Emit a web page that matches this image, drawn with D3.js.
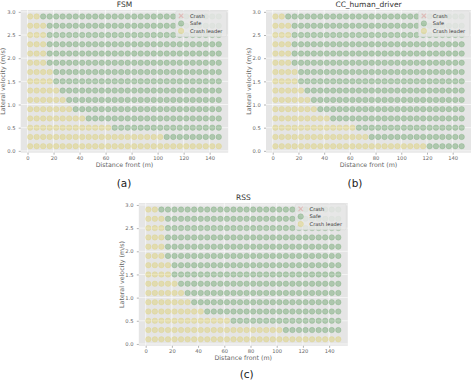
<!DOCTYPE html>
<html><head><meta charset="utf-8">
<script src="https://cdn.jsdelivr.net/npm/d3@7"></script>
<style>body{margin:0;background:#fff}svg{display:block;font-family:"DejaVu Sans",sans-serif}</style>
</head><body><svg id="chart" width="474" height="381"></svg>
<script>
const distances = [2,7,12,17,22,27,32,37,42,47,52,57,62,67,72,77,82,87,92,97,102,107,112,117,122,127,132,137,142,147];
const lateralVelocities = [0.1,0.3,0.5,0.7,0.9,1.1,1.3,1.5,1.7,1.9,2.1,2.3,2.5,2.7,2.9];
// per row (bottom to top): how many points from the left are "Crash leader"; the rest are "Safe"
const fsmCrashLeader = [30,21,13,9,7,6,5,4,4,3,3,3,3,3,2];
const ccCrashLeader  = [24,15,13,9,7,6,5,4,4,3,3,3,3,3,2];
const rssCrashLeader = [30,21,13,9,7,6,5,4,4,3,3,3,3,3,2];
const xTicks = [0,20,40,60,80,100,120,140];
const yTicks = [0,0.5,1,1.5,2,2.5,3];
const legendLabels = ["Crash","Safe","Crash leader"];
const panelTitles = ["FSM","CC_human_driver","RSS"];
const panelCaptions = ["(a)","(b)","(c)"];
const panelData = [fsmCrashLeader, ccCrashLeader, rssCrashLeader];

const layout = [
  {left:20.7, top:10, w:207.5, h:142.7, capX:124, capY:183},
  {left:266,  top:10, w:205,   h:142.7, capX:355, capY:183},
  {left:138.8,top:203.1,w:209, h:142.7, capX:246.7, capY:374}
];
const colors = {crash:"#e06060", safe:"#3a8a3a", leader:"#d9c640"};

const svg = d3.select("#chart");

function drawPanel(i){
  const L = layout[i];
  const counts = panelData[i];
  const x = d3.scaleLinear().domain([-5.25,154.25]).range([0,L.w]);
  const y = d3.scaleLinear().domain([-0.04,3.04]).range([L.h,0]);
  const g = svg.append("g").attr("transform",`translate(${L.left},${L.top})`);
  g.append("rect").attr("width",L.w).attr("height",L.h).attr("fill","#E5E5E5");
  g.selectAll(".gx").data(xTicks).join("line")
    .attr("x1",d=>x(d)).attr("x2",d=>x(d)).attr("y1",0).attr("y2",L.h)
    .attr("stroke","#fff").attr("stroke-width",0.6);
  g.selectAll(".gy").data(yTicks).join("line")
    .attr("y1",d=>y(d)).attr("y2",d=>y(d)).attr("x1",0).attr("x2",L.w)
    .attr("stroke","#fff").attr("stroke-width",0.6);
  const pts = [];
  lateralVelocities.forEach((v,r)=>{
    distances.forEach((d,c)=>{
      pts.push({d, v, cls: c < counts[r] ? "leader" : "safe"});
    });
  });
  g.selectAll(".pt").data(pts).join("circle")
    .attr("cx",p=>x(p.d)).attr("cy",p=>y(p.v)).attr("r",2.75)
    .attr("fill",p=>colors[p.cls]).attr("fill-opacity",0.32)
    .attr("stroke",p=>colors[p.cls]).attr("stroke-opacity",0.25).attr("stroke-width",0.7);
  const ax = g.append("g").attr("transform",`translate(0,${L.h})`)
    .call(d3.axisBottom(x).tickValues(xTicks).tickSize(2).tickPadding(1.5).tickFormat(d3.format("d")));
  const ay = g.append("g")
    .call(d3.axisLeft(y).tickValues(yTicks).tickSize(2).tickPadding(3.2).tickFormat(d3.format(".1f")));
  [ax,ay].forEach(a=>{
    a.select(".domain").remove();
    a.selectAll(".tick line").attr("stroke","#666").attr("stroke-width",0.5);
    a.selectAll(".tick text").attr("fill","#666").style("font-size","5.2px").style("font-family","DejaVu Sans");
  });
  g.append("text").attr("x",L.w/2).attr("y",L.h+14.3).attr("text-anchor","middle")
    .attr("fill","#666").style("font-size","6.3px").text("Distance front (m)");
  g.append("text").attr("transform",`translate(-17.5,${L.h/2}) rotate(-90)`).attr("text-anchor","middle")
    .attr("dy","0.35em").attr("fill","#666").style("font-size","6.3px").text("Lateral velocity (m/s)");
  g.append("text").attr("x",L.w/2).attr("y",-3.2).attr("text-anchor","middle")
    .attr("fill","#333").style("font-size","7.5px").text(panelTitles[i]);
  const lw = 51, lh = 25.7;
  const lg = g.append("g").attr("transform",`translate(${L.w-lw-1.5},1)`);
  lg.append("rect").attr("width",lw).attr("height",lh).attr("rx",1.5)
    .attr("fill","#E8E8E8").attr("fill-opacity",0.85).attr("stroke","#d8d8d8").attr("stroke-width",0.5);
  const keys = ["crash","safe","leader"];
  legendLabels.forEach((lab,k)=>{
    const yy = 4.8 + k*7.6;
    if(keys[k]==="crash"){
      lg.append("path").attr("d",`M3.2,${yy-2.2}L7.6,${yy+2.2}M3.2,${yy+2.2}L7.6,${yy-2.2}`)
        .attr("stroke",colors.crash).attr("stroke-opacity",0.3).attr("stroke-width",1.2);
    } else {
      lg.append("circle").attr("cx",5.4).attr("cy",yy).attr("r",2.75)
        .attr("fill",colors[keys[k]]).attr("fill-opacity",0.32)
        .attr("stroke",colors[keys[k]]).attr("stroke-opacity",0.25).attr("stroke-width",0.7);
    }
    lg.append("text").attr("x",14.3).attr("y",yy).attr("dy","0.35em")
      .attr("fill","#333").style("font-size","5.1px").text(lab);
  });
  svg.append("text").attr("x",L.capX).attr("y",L.capY).attr("dy","0.35em").attr("text-anchor","middle")
    .attr("fill","#222").style("font-size","10.5px").text(panelCaptions[i]);
}
[0,1,2].forEach(drawPanel);
</script></body></html>
